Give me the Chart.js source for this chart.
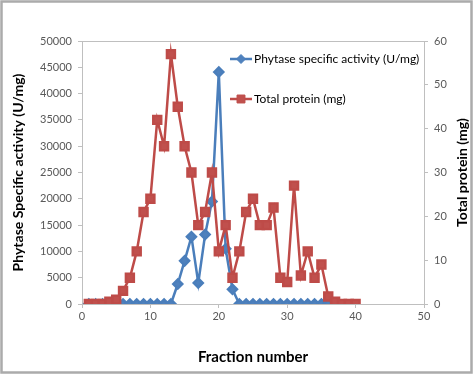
<!DOCTYPE html>
<html>
<head>
<meta charset="utf-8">
<script src="https://cdn.jsdelivr.net/npm/chart.js@4.4.1/dist/chart.umd.min.js"></script>
<style>
html,body{margin:0;padding:0;background:#fff;}
#wrap{width:474px;height:375px;}
</style>
</head>
<body>
<div id="wrap"><canvas id="c" width="474" height="375"></canvas></div>
<script>
const fractions = [1,2,3,4,5,6,7,8,9,10,11,12,13,14,15,16,17,18,19,20,21,22,23,24,25,26,27,28,29,30,31,32,33,34,35,36,37,38,39,40];
const activity = [0,0,0,0,0,0,0,0,0,0,0,0,0,3800,8200,12800,4000,13200,19500,44100,10500,2800,0,0,0,0,0,0,0,0,0,0,0,0,0,0];
const protein = [0,0,0,0.5,1,3,6,12,21,24,42,36,57,45,36,30,18,21,30,12,18,6,12,21,24,18,18,22,6,5,27,6.5,12,6,9,1.7,0.5,0,0,0];
const xTicks = [0,10,20,30,40,50];
const leftTicks = [0,5000,10000,15000,20000,25000,30000,35000,40000,45000,50000];
const rightTicks = [0,10,20,30,40,50,60];
const seriesNames = ['Phytase specific activity (U/mg)','Total protein (mg)'];
const axisTitles = {x:'Fraction number', left:'Phytase Specific activity (U/mg)', right:'Total protein (mg)'};

const BLUE = '#4A7EBB', BLUE_F = '#4F81BD';
const RED = '#BE4B48', RED_F = '#C0504D';
const AX = '#BFBFBF';
const TICKC = '#595959';
const FONT = 'Lato, "Liberation Sans", sans-serif';

const blueData = activity.map((v,i)=>({x:fractions[i], y:v}));
const redData = protein.map((v,i)=>({x:fractions[i], y:v}));

const framePlugin = {
  id:'frame',
  beforeDraw(chart){
    const c = chart.ctx;
    c.save();
    c.fillStyle='#fff';
    c.fillRect(0,0,chart.width,chart.height);
    c.restore();
  },
  afterDraw(chart){
    const c = chart.ctx, a = chart.chartArea;
    c.save();
    c.strokeStyle = AX; c.lineWidth = 1;
    c.beginPath(); c.moveTo(a.left, a.top+0.5); c.lineTo(a.right, a.top+0.5); c.stroke();
    c.strokeStyle = '#ABABAB'; c.lineWidth = 2.5;
    c.strokeRect(1.5,1.5,470,371);
    c.fillStyle = '#000';
    c.font = 'bold 14px ' + FONT;
    c.textAlign='center'; c.textBaseline='middle';
    c.translate(462, (a.top+a.bottom)/2);
    c.rotate(-Math.PI/2);
    c.fillText(axisTitles.right, 0, 0);
    c.restore();
    c.save();
    const items = [
      {y:59, color:BLUE, fill:BLUE_F, style:'rectRot', r:4.5, text:seriesNames[0]},
      {y:99, color:RED, fill:RED_F, style:'rect', r:5.6, text:seriesNames[1]}
    ];
    items.forEach(it=>{
      c.strokeStyle = it.color; c.lineWidth = 2.5;
      c.beginPath(); c.moveTo(230, it.y); c.lineTo(252, it.y); c.stroke();
      c.fillStyle = it.fill; c.strokeStyle = it.color; c.lineWidth=1;
      Chart.helpers.drawPoint(c, {pointStyle: it.style, radius: it.r, borderWidth:1, rotation:0}, 241, it.y);
      c.fillStyle = '#000';
      c.font = '12px ' + FONT;
      c.textAlign='left'; c.textBaseline='middle';
      c.fillText(it.text, 254, it.y);
    });
    c.restore();
  }
};

new Chart(document.getElementById('c'), {
  type:'line',
  data:{
    datasets:[
      {label:seriesNames[0], data:blueData, yAxisID:'y', borderColor:BLUE, backgroundColor:BLUE_F,
       pointStyle:'rectRot', pointRadius:4.5, pointBorderColor:BLUE, pointBackgroundColor:BLUE_F, borderWidth:2.5, tension:0, order:1},
      {label:seriesNames[1], data:redData, yAxisID:'y1', borderColor:RED, backgroundColor:RED_F,
       pointStyle:'rect', pointRadius:5.6, pointBorderColor:RED, pointBackgroundColor:RED_F, borderWidth:2.5, tension:0, order:0}
    ]
  },
  options:{
    responsive:false, animation:false,
    layout:{padding:{top:41,left:4,right:4,bottom:4}},
    plugins:{legend:{display:false}, tooltip:{enabled:false}},
    scales:{
      x:{type:'linear', min:0, max:50,
        afterBuildTicks(s){ s.ticks = xTicks.map(v=>({value:v})); },
        afterFit(s){ s.height = 67; },
        grid:{drawOnChartArea:false, tickLength:4, color:AX},
        border:{color:AX},
        ticks:{color:TICKC, font:{family:FONT, size:11}, padding:2, maxRotation:0},
        title:{display:true, text:axisTitles.x, color:'#000', font:{family:FONT, size:15, weight:'bold'}, padding:{top:0,bottom:5}}
      },
      y:{type:'linear', position:'left', min:0, max:50000,
        afterBuildTicks(s){ s.ticks = leftTicks.map(v=>({value:v})); },
        afterFit(s){ s.width = 78; },
        grid:{drawOnChartArea:false, tickLength:4, color:AX},
        border:{color:AX},
        ticks:{color:TICKC, font:{family:FONT, size:11}, padding:6, callback:(v)=>String(v)},
        title:{display:true, text:axisTitles.left, color:'#000', font:{family:FONT, size:14, weight:'bold'}, padding:{top:6,bottom:0}}
      },
      y1:{type:'linear', position:'right', min:0, max:60,
        afterBuildTicks(s){ s.ticks = rightTicks.map(v=>({value:v})); },
        afterFit(s){ s.width = 46; },
        grid:{drawOnChartArea:false, tickLength:4, color:AX},
        border:{color:AX},
        ticks:{color:TICKC, font:{family:FONT, size:11}, padding:6}
      }
    }
  },
  plugins:[framePlugin]
});
</script>
</body>
</html>
